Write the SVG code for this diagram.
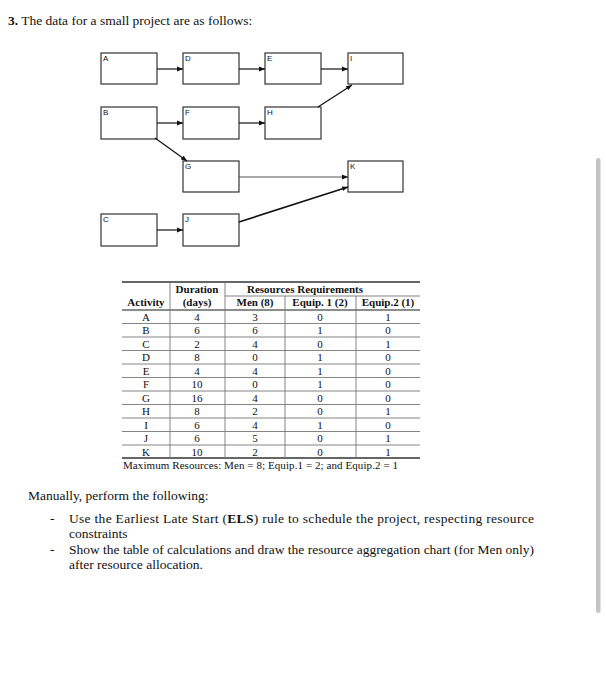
<svg xmlns="http://www.w3.org/2000/svg" width="606" height="700" viewBox="0 0 606 700">
<style>
.box rect{fill:#fff;stroke:#333;stroke-width:1.2}
.box text{font-family:"Liberation Sans",Arial,sans-serif;font-size:8px;fill:#111}
.conn line{stroke:#111;stroke-width:1.2;marker-end:url(#ah)}
.t{font-family:"Liberation Serif","Times New Roman",serif;fill:#111}
.tb{font-family:"Liberation Serif","Times New Roman",serif;font-weight:bold;fill:#111}
.grid line{stroke:#777;stroke-width:0.9}
.thick{stroke:#666;stroke-width:2}
</style>
<defs>
<marker id="ah" viewBox="0 0 10 10" refX="10" refY="5" markerWidth="6" markerHeight="6" orient="auto" markerUnits="userSpaceOnUse">
<path d="M0,1 L10,5 L0,9 z" fill="#111"/>
</marker>
</defs>
<rect width="606" height="700" fill="#fff"/>
<text class="t" x="8" y="25" font-size="13.5"><tspan font-weight="bold">3.</tspan> The data for a small project are as follows:</text>

<g class="box" id="A"><rect x="101" y="53" width="56" height="31"/><text x="103" y="61">A</text></g>
<g class="box" id="D"><rect x="183" y="53" width="56" height="31"/><text x="185" y="61">D</text></g>
<g class="box" id="E"><rect x="265" y="53" width="56" height="31"/><text x="267" y="61">E</text></g>
<g class="box" id="I"><rect x="348" y="53" width="55" height="31"/><text x="350" y="61">I</text></g>
<g class="box" id="B"><rect x="101" y="107" width="56" height="32"/><text x="103" y="115">B</text></g>
<g class="box" id="F"><rect x="183" y="107" width="56" height="32"/><text x="185" y="115">F</text></g>
<g class="box" id="H"><rect x="265" y="107" width="56" height="32"/><text x="267" y="115">H</text></g>
<g class="box" id="G"><rect x="183" y="161" width="56" height="31"/><text x="185" y="169">G</text></g>
<g class="box" id="K"><rect x="348" y="161" width="55" height="31"/><text x="350" y="169">K</text></g>
<g class="box" id="C"><rect x="101" y="214" width="56" height="32"/><text x="103" y="222">C</text></g>
<g class="box" id="J"><rect x="183" y="214" width="56" height="32"/><text x="185" y="222">J</text></g>

<g class="conn" id="connectors">
<line x1="157" y1="69" x2="183" y2="69"/>
<line x1="239" y1="69" x2="265" y2="69"/>
<line x1="321" y1="69" x2="348" y2="69"/>
<line x1="157" y1="123" x2="183" y2="123"/>
<line x1="239" y1="123" x2="265" y2="123"/>
<line x1="318" y1="107" x2="352" y2="85"/>
<line x1="155" y1="138" x2="187" y2="161"/>
<line x1="239" y1="177" x2="348" y2="177" style="stroke:#444;stroke-width:0.9"/>
<line x1="239" y1="222" x2="348" y2="187" style="stroke-width:1.6"/>
<line x1="157" y1="230" x2="183" y2="230"/>
</g>

<g id="table">
<line class="thick" x1="122" y1="282" x2="420" y2="282"/>
<line class="thick" x1="122" y1="310" x2="420" y2="310" style="stroke-width:1.5"/>
<line class="thick" x1="122" y1="458" x2="420" y2="458"/>
<g class="grid">
<line x1="225" y1="296" x2="420" y2="296"/>
<line x1="170" y1="282" x2="170" y2="458"/>
<line x1="225" y1="282" x2="225" y2="458"/>
<line x1="285" y1="296" x2="285" y2="458"/>
<line x1="356" y1="296" x2="356" y2="458"/>
<line x1="122" y1="323.5" x2="420" y2="323.5"/>
<line x1="122" y1="337" x2="420" y2="337"/>
<line x1="122" y1="350.5" x2="420" y2="350.5"/>
<line x1="122" y1="364" x2="420" y2="364"/>
<line x1="122" y1="377.5" x2="420" y2="377.5"/>
<line x1="122" y1="391" x2="420" y2="391"/>
<line x1="122" y1="404.5" x2="420" y2="404.5"/>
<line x1="122" y1="418" x2="420" y2="418"/>
<line x1="122" y1="431.5" x2="420" y2="431.5"/>
<line x1="122" y1="445" x2="420" y2="445"/>
</g>
<g class="tb" font-size="11" text-anchor="middle">
<text x="197" y="293">Duration</text>
<text x="305" y="293">Resources Requirements</text>
<text x="146" y="306">Activity</text>
<text x="197" y="306">(days)</text>
<text x="255" y="306">Men (8)</text>
<text x="320" y="306">Equip. 1 (2)</text>
<text x="388" y="306">Equip.2 (1)</text>
</g>
<g class="t" font-size="11" text-anchor="middle">
<text y="320.5"><tspan x="146">A</tspan><tspan x="197">4</tspan><tspan x="255">3</tspan><tspan x="320">0</tspan><tspan x="388">1</tspan></text>
<text y="334"><tspan x="146">B</tspan><tspan x="197">6</tspan><tspan x="255">6</tspan><tspan x="320">1</tspan><tspan x="388">0</tspan></text>
<text y="347.5"><tspan x="146">C</tspan><tspan x="197">2</tspan><tspan x="255">4</tspan><tspan x="320">0</tspan><tspan x="388">1</tspan></text>
<text y="361"><tspan x="146">D</tspan><tspan x="197">8</tspan><tspan x="255">0</tspan><tspan x="320">1</tspan><tspan x="388">0</tspan></text>
<text y="374.5"><tspan x="146">E</tspan><tspan x="197">4</tspan><tspan x="255">4</tspan><tspan x="320">1</tspan><tspan x="388">0</tspan></text>
<text y="388"><tspan x="146">F</tspan><tspan x="197">10</tspan><tspan x="255">0</tspan><tspan x="320">1</tspan><tspan x="388">0</tspan></text>
<text y="401.5"><tspan x="146">G</tspan><tspan x="197">16</tspan><tspan x="255">4</tspan><tspan x="320">0</tspan><tspan x="388">0</tspan></text>
<text y="415"><tspan x="146">H</tspan><tspan x="197">8</tspan><tspan x="255">2</tspan><tspan x="320">0</tspan><tspan x="388">1</tspan></text>
<text y="428.5"><tspan x="146">I</tspan><tspan x="197">6</tspan><tspan x="255">4</tspan><tspan x="320">1</tspan><tspan x="388">0</tspan></text>
<text y="442"><tspan x="146">J</tspan><tspan x="197">6</tspan><tspan x="255">5</tspan><tspan x="320">0</tspan><tspan x="388">1</tspan></text>
<text y="455.5"><tspan x="146">K</tspan><tspan x="197">10</tspan><tspan x="255">2</tspan><tspan x="320">0</tspan><tspan x="388">1</tspan></text>
</g>
<text class="t" x="123" y="469" font-size="11" textLength="275" lengthAdjust="spacing">Maximum Resources: Men = 8; Equip.1 = 2; and Equip.2 = 1</text>
</g>

<g class="t" font-size="13.5">
<text x="28" y="500">Manually, perform the following:</text>
<text x="50" y="523">-</text>
<text x="69" y="523" textLength="465" lengthAdjust="spacing">Use the Earliest Late Start (<tspan font-weight="bold">ELS</tspan>) rule to schedule the project, respecting resource</text>
<text x="69" y="538">constraints</text>
<text x="50" y="554">-</text>
<text x="69" y="554" textLength="465" lengthAdjust="spacing">Show the table of calculations and draw the resource aggregation chart (for Men only)</text>
<text x="69" y="569">after resource allocation.</text>
</g>

<rect x="596" y="158" width="4.5" height="455" rx="2" fill="#c4c4c4"/>
</svg>
